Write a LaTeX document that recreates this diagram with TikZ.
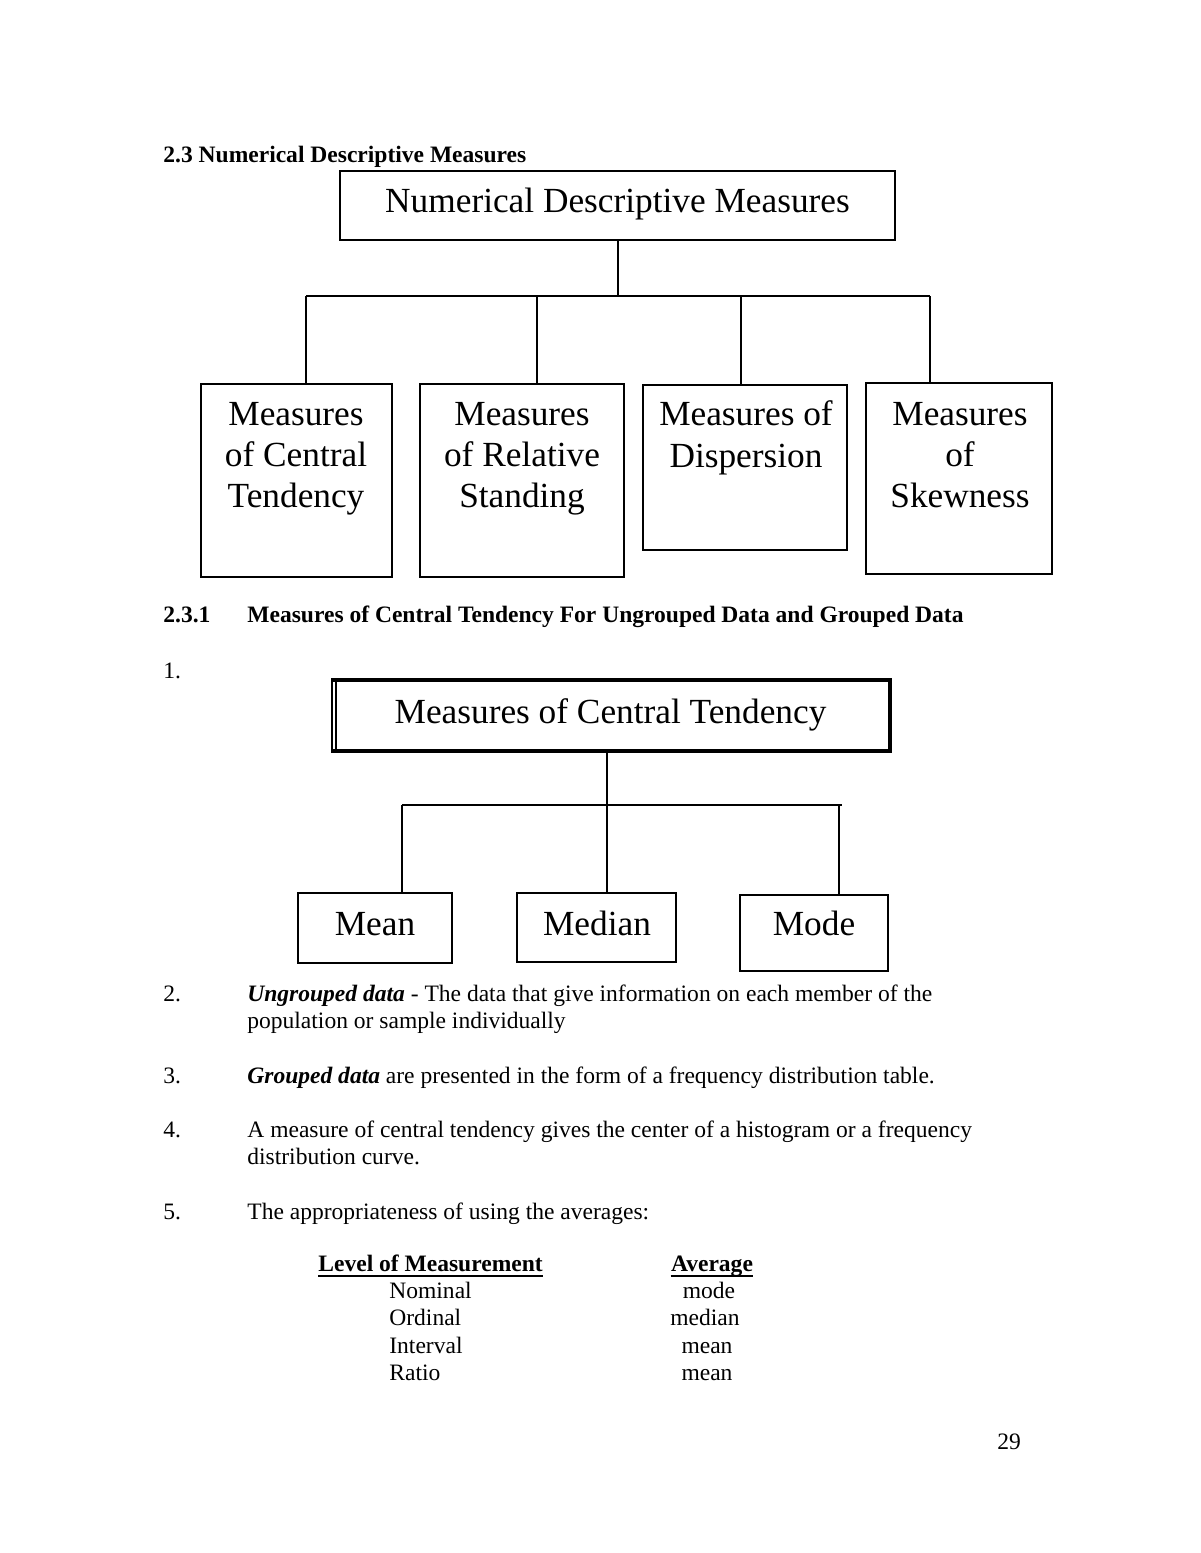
\documentclass[tikz,border=0pt]{standalone}
\usepackage{fontspec}
\setmainfont{Liberation Serif}
\usetikzlibrary{fit,calc}
\begin{document}
\begin{tikzpicture}[x=0.51pt,y=-0.51pt,
  boxst/.style={draw, line width=1.3pt, inner sep=0pt, outer sep=0pt},
  conn/.style={line width=1.2pt},
  btxt/.style={anchor=base, inner sep=0pt, font=\fontsize{18}{21}\selectfont},
  body/.style={anchor=base west, inner sep=0pt, font=\fontsize{12}{14}\selectfont},
  bodyc/.style={anchor=base, inner sep=0pt, font=\fontsize{12}{14}\selectfont}]
\fill[white] (0,0) rectangle (1200,1553);
\useasboundingbox (0,0) rectangle (1200,1553);

% ---- heading
\node[body, font=\fontsize{12}{14}\selectfont\bfseries] (h1) at (163,163) {2.3 Numerical Descriptive Measures};

% ---- first chart
\node[boxst, fit={(340,171) (895,240)}] (top) {};
\node[btxt] (toptxt) at (617.5,213) {Numerical Descriptive Measures};

\node[boxst, fit={(201,384) (392,577)}] (b1) {};
\node[boxst, fit={(420,384) (624,577)}] (b2) {};
\node[boxst, fit={(643,385) (847,550)}] (b3) {};
\node[boxst, fit={(866,383) (1052,574)}] (b4) {};

\node[btxt] (b1a) at (296,425) {Measures};
\node[btxt] (b1b) at (296,466) {of Central};
\node[btxt] (b1c) at (296,507) {Tendency};
\node[btxt] (b2a) at (522,425) {Measures};
\node[btxt] (b2b) at (522,466) {of Relative};
\node[btxt] (b2c) at (522,507) {Standing};
\node[btxt] (b3a) at (746,425) {Measures of};
\node[btxt] (b3b) at (746,467) {Dispersion};
\node[btxt] (b4a) at (960,425) {Measures};
\node[btxt] (b4b) at (960,466) {of};
\node[btxt] (b4c) at (960,507) {Skewness};

\coordinate (bus) at (618,296);
\coordinate (d1) at (306,296);
\coordinate (d2) at (537,296);
\coordinate (d3) at (741,296);
\coordinate (d4) at (930,296);
\draw[conn] (top.south -| bus) -- (bus);
\draw[conn] (d1) -- (d4);
\draw[conn] (d1) -- (d1 |- b1.north);
\draw[conn] (d2) -- (d2 |- b2.north);
\draw[conn] (d3) -- (d3 |- b3.north);
\draw[conn] (d4) -- (d4 |- b4.north);

% ---- section heading
\node[body, font=\fontsize{12}{14}\selectfont\bfseries] (h2n) at (163,622) {2.3.1};
\node[body, font=\fontsize{12}{14}\selectfont\bfseries] (h2t) at (247,622) {Measures of Central Tendency For Ungrouped Data and Grouped Data};
\node[body] (i1) at (163,678) {1.};

% ---- second chart
\node[inner sep=0pt, outer sep=0pt, fit={(331,679) (890,752)}] (mct) {};
\draw[line width=2.4pt] (331,680) -- (890,680) -- (890,751) -- (331,751);
\draw[line width=0.6pt] (332,679) -- (332,752);
\draw[line width=0.8pt] (336,681) -- (336,750);
\node[btxt] (mcttxt) at (610.5,723) {Measures of Central Tendency};

\node[boxst, fit={(298,893) (452,963)}] (mean) {};
\node[boxst, fit={(517,893) (676,962)}] (median) {};
\node[boxst, fit={(740,895) (888,971)}] (mode) {};
\node[btxt] (meantxt) at (375,935) {Mean};
\node[btxt] (mediantxt) at (597,935) {Median};
\node[btxt] (modetxt) at (814,935) {Mode};

\coordinate (bus2) at (607,805);
\coordinate (e1) at (402,805);
\coordinate (e3) at (839,805);
\coordinate (e4) at (842,805);
\draw[conn] (mct.south -| bus2) -- (bus2);
\draw[conn] (e1) -- (e4);
\draw[conn] (e1) -- (e1 |- mean.north);
\draw[conn] (bus2) -- (bus2 |- median.north);
\draw[conn] (e3) -- (e3 |- mode.north);

% ---- items
\node[body] (n2) at (163,1001) {2.};
\node[body] (t2a) at (247,1001) {\textbf{\textit{Ungrouped data}} - The data that give information on each member of the};
\node[body] (t2b) at (247,1028) {population or sample individually};
\node[body] (n3) at (163,1083) {3.};
\node[body] (t3) at (247,1083) {\textbf{\textit{Grouped data}} are presented in the form of a frequency distribution table.};
\node[body] (n4) at (163,1137) {4.};
\node[body] (t4a) at (247,1137) {A measure of central tendency gives the center of a histogram or a frequency};
\node[body] (t4b) at (247,1164) {distribution curve.};
\node[body] (n5) at (163,1219) {5.};
\node[body] (t5) at (247,1219) {The appropriateness of using the averages:};

% ---- table
\node[body] (th1) at (318,1271) {\textbf{Level of Measurement}};
\node[bodyc] (th2) at (712,1271) {\textbf{Average}};
\draw[line width=1.1pt] ($(th1.base west)+(0,5)$) -- ($(th1.base east)+(0,5)$);
\draw[line width=1.1pt] ($(th2.base west)+(0,5)$) -- ($(th2.base east)+(0,5)$);
\node[body] (r1) at (389,1298) {Nominal};
\node[body] (r2) at (389,1325) {Ordinal};
\node[body] (r3) at (389,1353) {Interval};
\node[body] (r4) at (389,1380) {Ratio};
\node[bodyc] (a1) at (709,1298) {mode};
\node[bodyc] (a2) at (705,1325) {median};
\node[bodyc] (a3) at (707,1353) {mean};
\node[bodyc] (a4) at (707,1380) {mean};

\node[body] (pg) at (997,1449) {29};
\end{tikzpicture}
\end{document}
